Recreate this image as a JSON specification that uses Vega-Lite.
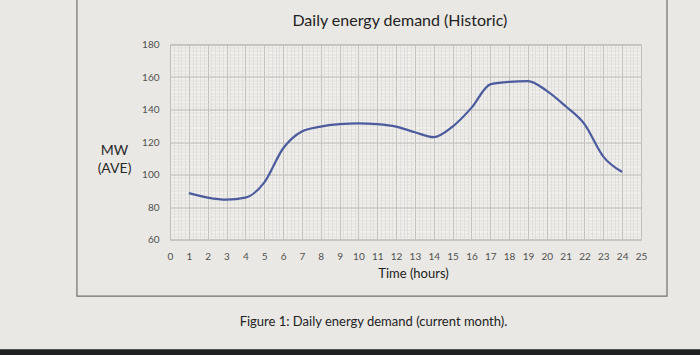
{
  "$schema": "https://vega.github.io/schema/vega-lite/v6.json",
  "width": 471,
  "height": 195,
  "autosize": {"type": "none"},
  "padding": {"left": 170, "top": 44.5, "right": 59, "bottom": 115.5},
  "background": "#e9e8e4",
  "config": {
    "view": {"stroke": "#9a9a98", "strokeWidth": 1, "fill": "#f1f0ed"},
    "font": "Lato"
  },
  "data": {
    "values": [
      {"hour": 1, "mw": 88.5},
      {"hour": 2, "mw": 85.8},
      {"hour": 3, "mw": 84.5},
      {"hour": 4, "mw": 85.8},
      {"hour": 5, "mw": 95},
      {"hour": 6, "mw": 116},
      {"hour": 7, "mw": 126.5},
      {"hour": 8, "mw": 129.5},
      {"hour": 9, "mw": 131},
      {"hour": 10, "mw": 131.5},
      {"hour": 11, "mw": 131},
      {"hour": 12, "mw": 129.5},
      {"hour": 13, "mw": 126},
      {"hour": 14, "mw": 123},
      {"hour": 15, "mw": 129.5},
      {"hour": 16, "mw": 141},
      {"hour": 17, "mw": 155.5},
      {"hour": 18, "mw": 157},
      {"hour": 19, "mw": 157.5},
      {"hour": 20, "mw": 151.5},
      {"hour": 21, "mw": 142},
      {"hour": 22, "mw": 131},
      {"hour": 23, "mw": 111},
      {"hour": 24, "mw": 101.5}
    ]
  },
  "layer": [
    {
      "mark": {"type": "point", "opacity": 0},
      "encoding": {
        "x": {
          "field": "hour", "type": "quantitative",
          "scale": {"domain": [0, 25], "nice": false, "zero": false},
          "axis": {"orient": "top", "grid": true, "tickCount": 125, "labels": false, "ticks": false, "domain": false, "title": null, "gridColor": "#dddcd9", "gridWidth": 0.8}
        },
        "y": {
          "field": "mw", "type": "quantitative",
          "scale": {"domain": [60, 180], "nice": false, "zero": false},
          "axis": {"orient": "right", "grid": true, "tickCount": 60, "labels": false, "ticks": false, "domain": false, "title": null, "gridColor": "#dddcd9", "gridWidth": 0.8}
        }
      }
    },
    {
      "mark": {"type": "line", "interpolate": "monotone", "color": "#4b5b9e", "strokeWidth": 2.2},
      "encoding": {
        "x": {
          "field": "hour", "type": "quantitative",
          "scale": {"domain": [0, 25], "nice": false, "zero": false},
          "axis": {
            "orient": "bottom", "grid": true, "gridColor": "#bdbcb9", "gridWidth": 1,
            "values": [0,1,2,3,4,5,6,7,8,9,10,11,12,13,14,15,16,17,18,19,20,21,22,23,24,25],
            "ticks": false, "domain": false, "labelPadding": 12, "labelFontSize": 10, "labelFont": "Lato",
            "labelColor": "#505050", "labelFlush": false, "labelOverlap": false,
            "title": "Time (hours)", "titleFontSize": 13, "titleFont": "Lato", "titleFontWeight": "normal",
            "titleColor": "#222222", "titlePadding": 6, "titleX": 243
          }
        },
        "y": {
          "field": "mw", "type": "quantitative",
          "scale": {"domain": [60, 180], "nice": false, "zero": false},
          "axis": {
            "orient": "left", "grid": true, "gridColor": "#bdbcb9", "gridWidth": 1,
            "values": [60, 80, 100, 120, 140, 160, 180],
            "ticks": false, "domain": false, "labelPadding": 11, "labelFontSize": 10, "labelFont": "Lato",
            "labelColor": "#505050", "labelFlush": false,
            "title": ["MW", "(AVE)"], "titleAngle": 0, "titleAlign": "center", "titleBaseline": "middle",
            "titleX": -56, "titleY": 106, "titleFontSize": 14, "titleFont": "Lato", "titleFontWeight": "normal",
            "titleColor": "#2a2a2a", "titleLineHeight": 18
          }
        }
      }
    },
    {
      "data": {"values": [{}]},
      "mark": {"type": "rect", "fill": null, "stroke": "#6f6f6d", "strokeWidth": 1.2, "clip": false},
      "encoding": {
        "x": {"datum": -4.94, "type": "quantitative", "scale": {"domain": [0, 25], "nice": false, "zero": false}, "axis": null},
        "x2": {"datum": 26.38},
        "y": {"datum": 25.2, "type": "quantitative", "scale": {"domain": [60, 180], "nice": false, "zero": false}, "axis": null},
        "y2": {"datum": 215}
      }
    },
    {
      "data": {"values": [{}]},
      "mark": {"type": "text", "fontSize": 16, "font": "Lato", "color": "#222222", "align": "center", "baseline": "middle", "clip": false},
      "encoding": {
        "x": {"datum": 12.2, "type": "quantitative", "scale": {"domain": [0, 25], "nice": false, "zero": false}, "axis": null},
        "y": {"datum": 194.5, "type": "quantitative", "scale": {"domain": [60, 180], "nice": false, "zero": false}, "axis": null},
        "text": {"value": "Daily energy demand (Historic)"}
      }
    },
    {
      "data": {"values": [{}]},
      "mark": {"type": "text", "fontSize": 13, "font": "Lato", "color": "#222222", "align": "center", "baseline": "middle", "clip": false},
      "encoding": {
        "x": {"datum": 10.8, "type": "quantitative", "scale": {"domain": [0, 25], "nice": false, "zero": false}, "axis": null},
        "y": {"datum": 9.2, "type": "quantitative", "scale": {"domain": [60, 180], "nice": false, "zero": false}, "axis": null},
        "text": {"value": "Figure 1: Daily energy demand (current month)."}
      }
    },
    {
      "data": {"values": [{}]},
      "mark": {"type": "rect", "fill": "#1f2022", "clip": false},
      "encoding": {
        "x": {"datum": -10, "type": "quantitative", "scale": {"domain": [0, 25], "nice": false, "zero": false}, "axis": null},
        "x2": {"datum": 35},
        "y": {"datum": -7.5, "type": "quantitative", "scale": {"domain": [60, 180], "nice": false, "zero": false}, "axis": null},
        "y2": {"datum": -20}
      }
    }
  ],
  "resolve": {"axis": {"x": "independent", "y": "independent"}}
}
